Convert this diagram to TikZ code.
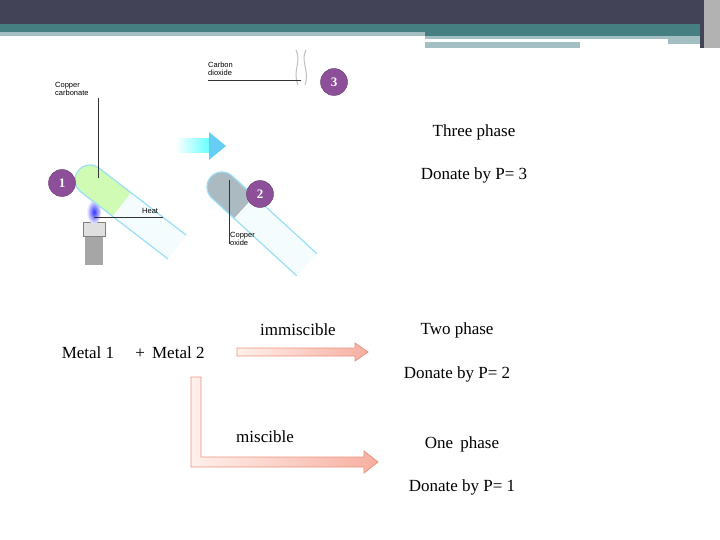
\documentclass[tikz,border=0pt]{standalone}
\usepackage{fontspec}
\setmainfont{Liberation Serif}
\setsansfont{Liberation Sans}
\usetikzlibrary{arrows.meta}
\definecolor{hdr}{HTML}{434357}
\definecolor{teal1}{HTML}{467F82}
\definecolor{lgray}{HTML}{A3BFC1}
\definecolor{purp}{HTML}{8E4F9A}
\definecolor{salm}{HTML}{E8937F}
\definecolor{pinkl}{HTML}{FFF0EC}
\definecolor{pinkd}{HTML}{F7AFA0}
\tikzset{
  txt/.style={font=\fontsize{17}{20}\selectfont, inner sep=0pt},
  small/.style={font=\sffamily\fontsize{7.5}{8}\selectfont, inner sep=0pt, align=left},
  num/.style={circle, fill=purp, draw=purp!70!black, minimum size=27pt, inner sep=0pt, text=white, font=\bfseries\fontsize{13}{13}\selectfont},
  bigarrow/.style={draw=salm, line width=0.8pt, left color=pinkl, right color=pinkd},
  lbl/.style={line width=0.5pt, black!80}
}
\begin{document}
\begin{tikzpicture}[x=1pt,y=-1pt]
\useasboundingbox (0,0) rectangle (720,540);
% header
\fill[hdr] (0,0) rectangle (720,24);
\fill[teal1] (0,24) rectangle (720,32);
\fill[lgray] (0,32) rectangle (425,36);
\fill[teal1] (425,32) rectangle (700,36);
\fill[lgray] (425,36) rectangle (668,39);
\fill[lgray] (425,42) rectangle (580,48);
\fill[lgray] (668,36) rectangle (712,44);
\fill[black!30] (700,0) rectangle (720,48);
\fill[hdr] (700,0) rectangle (704,48);
% burner
\fill[gray!70] (85,235) rectangle (103,265);
\fill[gray!25] (83,222) rectangle (105,236);
\draw[gray] (83,222) rectangle (105,236);
\shade[inner color=blue!80, outer color=blue!5] (94,212) ellipse (7 and 12);
% tube 1
\begin{scope}[shift={(90,180)}, rotate=-37.6]
  \fill[green!50!yellow!60, opacity=0.8] (0,-15) -- (40,-15) -- (40,15) -- (0,15) arc (90:270:15) -- cycle;
  \draw[cyan!40, line width=1.2pt, fill=cyan!10, fill opacity=0.4] (110,-15) -- (0,-15) arc (-90:-270:15) -- (110,15);
\end{scope}
\fill[green!50!yellow!60] (92,180) ellipse (0pt and 0pt);
% tube 2
\begin{scope}[shift={(222,187)}, rotate=-42.5]
  \fill[black!75!cyan!60] (0,-15) -- (30,-15) -- (30,15) -- (0,15) arc (90:270:15) -- cycle;
  \draw[cyan!40, line width=1.2pt, fill=cyan!10, fill opacity=0.4] (115,-15) -- (0,-15) arc (-90:-270:15) -- (115,15);
\end{scope}
% smoke
\draw[gray!50, line width=1pt] (298,85) .. controls (292,70) and (302,62) .. (296,50);
\draw[gray!50, line width=1pt] (305,85) .. controls (310,70) and (300,62) .. (306,50);
% blue arrow
\shade[left color=cyan!5, right color=cyan!60] (178,139) rectangle (210,153);
\fill[cyan!60] (209,132) -- (226,146) -- (209,160) -- cycle;
% labels
\node[small, anchor=north west] (cc) at (55,82) {Copper\\carbonate};
\coordinate (cc1) at (98,98);
\coordinate (cc2) at (98,178);
\draw[lbl] (cc1) -- (cc2);
\node[small, anchor=west] (heat) at (142,211) {Heat};
\coordinate (h1) at (94,217);
\coordinate (h2) at (163,217);
\draw[lbl] (h1) -- (h2);
\node[small, anchor=north west] (cd) at (208,62) {Carbon\\dioxide};
\coordinate (c1) at (208,80);
\coordinate (c2) at (301,80);
\draw[lbl] (c1) -- (c2);
\node[small, anchor=north west] (co) at (230,232) {Copper\\oxide};
\coordinate (o1) at (229,180);
\coordinate (o2) at (229,244);
\draw[lbl] (o1) -- (o2);
\node[num] (n1) at (62,183) {1};
\node[num] (n2) at (260,194) {2};
\node[num] (n3) at (334,82) {3};
% right texts
\node[txt] (t3) at (474,132) {Three phase};
\node[txt] (d3) at (474,175) {Donate by P= 3};
\node[txt] (m1) at (88,353) {Metal 1};
\node[txt] (m2) at (170,353) {+ \,Metal 2};
\node[txt] (im) at (298,330) {immiscible};
\node[txt] (t2) at (457,330) {Two phase};
\node[txt] (d2) at (457,374) {Donate by P= 2};
\node[txt] (mi) at (265,437) {miscible};
\node[txt] (t1) at (462,444) {One \,phase};
\node[txt] (d1) at (462,487) {Donate by P= 1};
% arrows
\path[bigarrow] (237,348) -- (355,348) -- (355,343) -- (368,352) -- (355,361) -- (355,356) -- (237,356) -- cycle;
\path[bigarrow] (191,377) -- (201,377) -- (201,457) -- (364,457) -- (364,451) -- (378,462) -- (364,473) -- (364,467) -- (191,467) -- cycle;
\end{tikzpicture}
\end{document}
